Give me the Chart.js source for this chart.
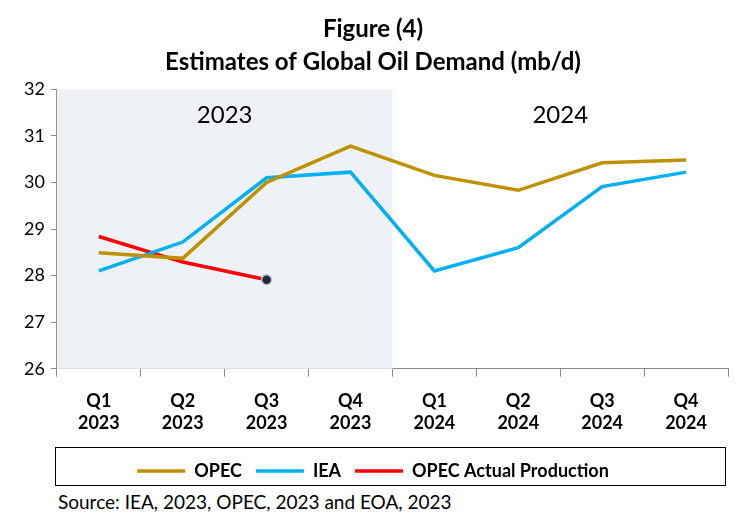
<!DOCTYPE html>
<html><head><meta charset="utf-8">
<script src="https://cdn.jsdelivr.net/npm/chart.js@4/dist/chart.umd.min.js"></script>
<style>
html,body{margin:0;padding:0;background:#fff;}
#wrap{position:relative;width:752px;height:532px;}
#src{position:absolute;left:58px;top:490px;font-family:Lato,"Open Sans",sans-serif;font-size:19px;color:#000;}
</style></head><body>
<div id="wrap"><canvas id="c" width="752" height="490"></canvas><div id="src">Source: IEA, 2023, OPEC, 2023 and EOA, 2023</div></div>
<script>
const categories=[['Q1','2023'],['Q2','2023'],['Q3','2023'],['Q4','2023'],['Q1','2024'],['Q2','2024'],['Q3','2024'],['Q4','2024']];
const opec=[28.49,28.37,30.0,30.78,30.15,29.83,30.42,30.48];
const iea=[28.1,28.72,30.1,30.22,28.1,28.6,29.91,30.22];
const actual=[28.84,28.29,27.91,null,null,null,null,null];
const yearLabels=['2023','2024'];

const bg={id:'bg',beforeDatasetsDraw(ch){
  const {ctx,chartArea:a,scales:{x}}=ch;
  const mid=(x.getPixelForValue(3)+x.getPixelForValue(4))/2;
  ctx.save();ctx.fillStyle='#eef2f7';ctx.fillRect(a.left,a.top,mid-a.left,a.bottom-a.top);
  ctx.fillStyle='#000';ctx.font='24px Lato, sans-serif';ctx.textAlign='center';ctx.textBaseline='middle';
  ctx.fillText(yearLabels[0],(a.left+mid)/2,a.top+26);ctx.fillText(yearLabels[1],(mid+a.right)/2,a.top+26);
  ctx.restore();
},afterDraw(ch){
  const ctx=ch.ctx;ctx.save();ctx.strokeStyle='#000';ctx.lineWidth=1;
  ctx.strokeRect(55.5,447.5,670,38);ctx.restore();
}};
new Chart(document.getElementById('c'),{type:'line',
data:{labels:categories,datasets:[
 {label:'OPEC',data:opec,borderColor:'#bf9000',backgroundColor:'#bf9000',borderWidth:3.5,pointRadius:0,tension:0},
 {label:'IEA',data:iea,borderColor:'#00b0f0',backgroundColor:'#00b0f0',borderWidth:3.5,pointRadius:0,tension:0},
 {label:'OPEC Actual Production',data:actual,borderColor:'#ff0000',backgroundColor:'#ff0000',borderWidth:3.5,
  pointRadius:[0,0,5],pointBackgroundColor:['#ff0000','#ff0000','#1f2a3a'],pointBorderColor:['#ff0000','#ff0000','#c0c8d8'],pointBorderWidth:[3.5,3.5,1.5],tension:0}
]},
options:{responsive:false,animation:false,
 layout:{padding:{left:18,right:24,top:0,bottom:0}},
 plugins:{
  title:{display:true,text:['Figure (4)','Estimates of Global Oil Demand (mb/d)'],color:'#000',font:{family:'Lato',size:24,weight:'bold',lineHeight:1.4},padding:{top:12,bottom:10}},
  legend:{position:'bottom',labels:{usePointStyle:true,pointStyle:'line',pointStyleWidth:48,color:'#000',font:{family:'Lato',size:18,weight:'bold'},padding:14},
   onClick:null},
  tooltip:{enabled:false}},
 scales:{
  x:{offset:true,grid:{offset:true,drawOnChartArea:false,color:'#888',tickLength:8},border:{color:'#888'},
   ticks:{color:'#000',font:{family:'Lato',size:18,weight:'bold'},padding:14}},
  y:{min:26,max:32,ticks:{stepSize:1,color:'#000',font:{family:'Lato',size:18},padding:6},
   grid:{drawOnChartArea:false,color:'#888',tickLength:6},border:{color:'#888'}}
 }},
plugins:[bg]});
</script></body></html>
